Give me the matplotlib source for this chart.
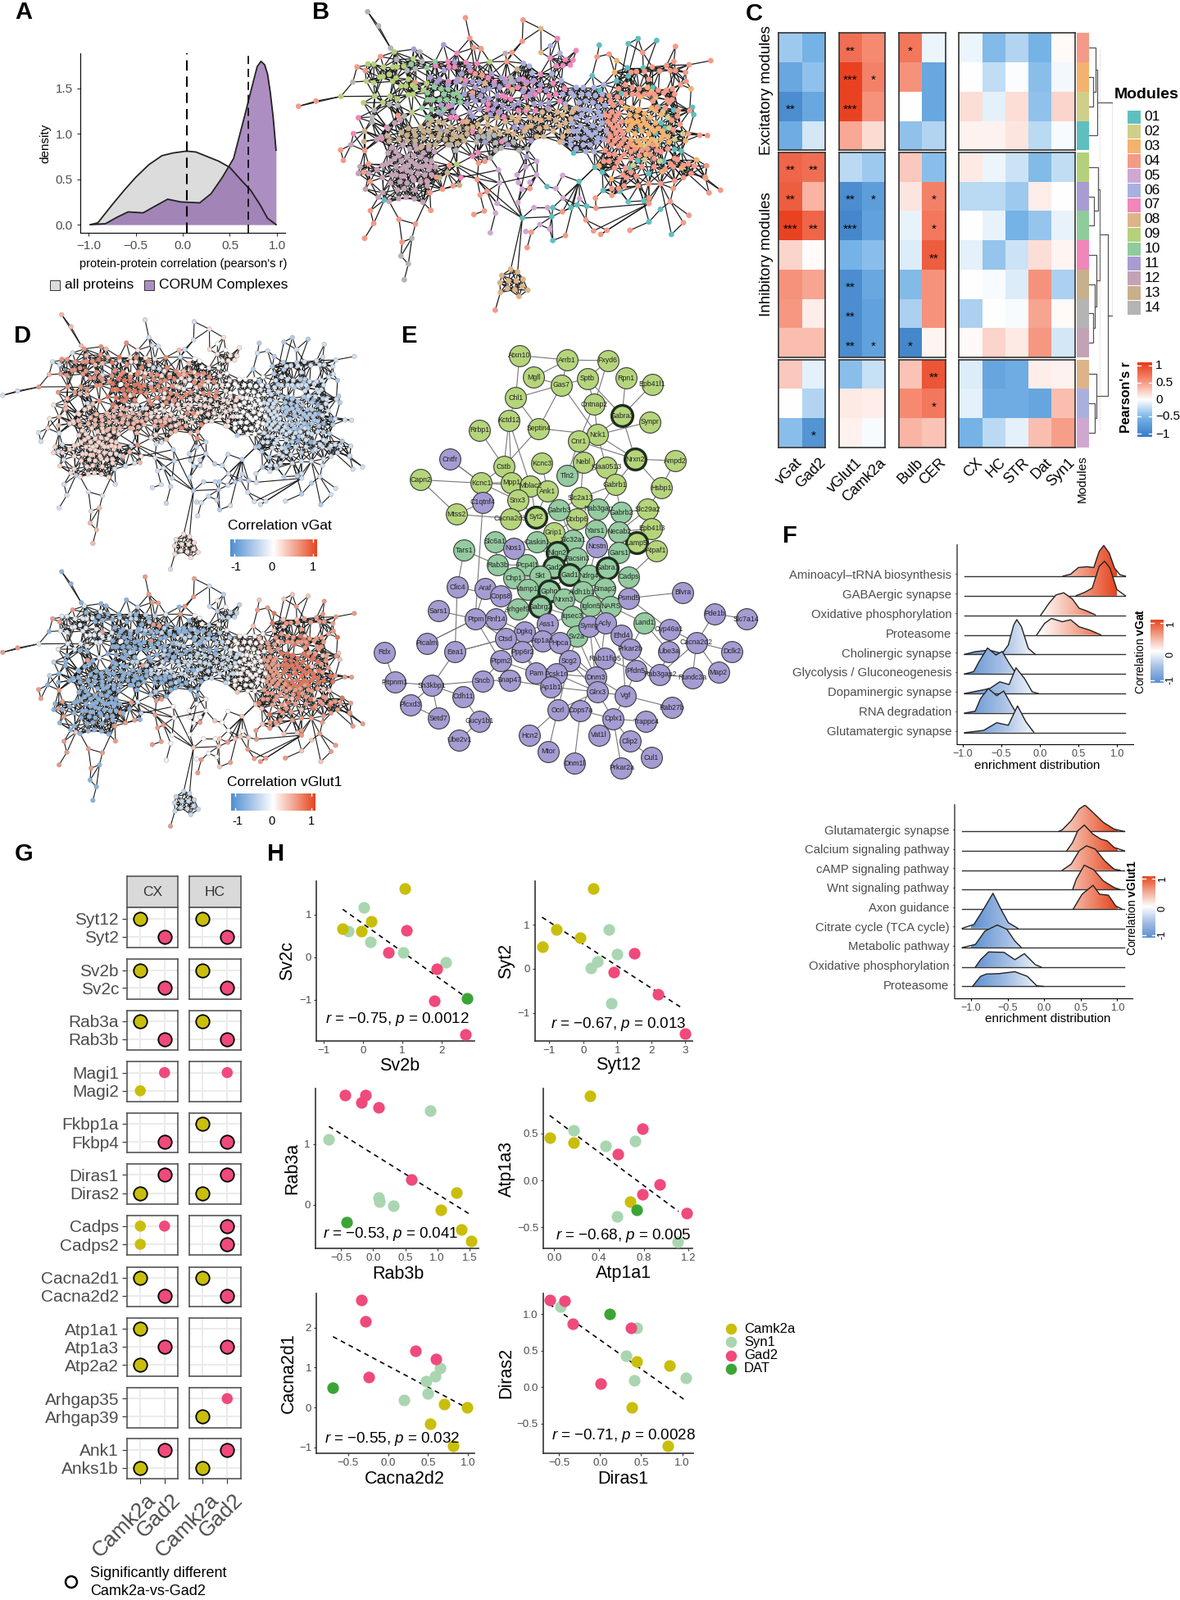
import numpy as np
import matplotlib
matplotlib.use('Agg')
import matplotlib.pyplot as plt
from matplotlib.collections import LineCollection
from matplotlib.colors import LinearSegmentedColormap

plt.rcParams['font.family'] = ['Liberation Sans', 'DejaVu Sans']
plt.rcParams['mathtext.fontset'] = 'custom'
plt.rcParams['mathtext.rm'] = 'Liberation Sans'
plt.rcParams['mathtext.it'] = 'Liberation Sans:italic'
plt.rcParams['mathtext.bf'] = 'Liberation Sans:bold'

W, H = 1440, 1952
fig = plt.figure(figsize=(W / 100, H / 100), dpi=100)
GREY = '#4d4d4d'


def box(x0, y0, x1, y1, **kw):
    return fig.add_axes([x0 / W, 1 - y1 / H, (x1 - x0) / W, (y1 - y0) / H], **kw)


def put(x, y, s, **kw):
    kw.setdefault('va', 'center')
    return fig.text(x / W, 1 - y / H, s, **kw)


for letter, lx, ly in [('A', 18, 15), ('B', 381, 15), ('C', 910, 17), ('D', 17, 410),
                       ('E', 490, 410), ('F', 955, 654), ('G', 18, 1042), ('H', 326, 1042)]:
    put(lx, ly, letter, fontsize=21, fontweight='bold', ha='left')

# ---------- A: density
all_x = [-0.98, -0.90, -0.84, -0.74, -0.62, -0.5, -0.36, -0.22, -0.10, 0.04, 0.14, 0.26, 0.38, 0.50, 0.62, 0.72, 0.82, 0.90, 0.99]
all_y = [0, 0.02, 0.10, 0.23, 0.38, 0.52, 0.66, 0.76, 0.79, 0.81, 0.80, 0.75, 0.70, 0.63, 0.49, 0.38, 0.22, 0.07, 0]
corum_x = [-0.98, -0.82, -0.70, -0.58, -0.42, -0.30, -0.16, -0.02, 0.18, 0.30, 0.42, 0.54, 0.66, 0.74, 0.79, 0.83, 0.87, 0.90, 0.93, 0.96, 0.99]
corum_y = [0, 0.01, 0.08, 0.14, 0.13, 0.20, 0.28, 0.25, 0.24, 0.34, 0.52, 0.73, 1.21, 1.54, 1.74, 1.80, 1.76, 1.66, 1.45, 1.18, 0.82]

ax = box(98, 65, 348, 284)
ax.fill_between(all_x, all_y, color='#dcdcdc', lw=0)
ax.plot(all_x, all_y, color='#222222', lw=1.3)
ax.fill_between(corum_x, corum_y, color='#8A5FA8', alpha=0.7, lw=0)
ax.plot(corum_x, corum_y, color='#222222', lw=1.3)
ax.axvline(0.04, color='black', ls=(0, (6, 3.5)), lw=1.5)
ax.axvline(0.7, color='black', ls=(0, (6, 3.5)), lw=1.2)
ax.set_xlim(-1.087, 1.087)
ax.set_ylim(-0.09, 1.888)
ax.set_xticks([-1, -0.5, 0, 0.5, 1], ['−1.0', '−0.5', '0.0', '0.5', '1.0'])
ax.set_yticks([0, 0.5, 1, 1.5], ['0.0', '0.5', '1.0', '1.5'])
ax.tick_params(labelsize=11, labelcolor=GREY, length=3, color='#333333')
for s in ['top', 'right']:
    ax.spines[s].set_visible(False)
ax.set_ylabel('density', fontsize=11, labelpad=4)
put(224, 322, "protein-protein correlation (pearson's r)", fontsize=10.5, ha='center')
lg = box(60, 340, 350, 356)
lg.axis('off')
lg.set_xlim(60, 350)
lg.set_ylim(356, 340)
lg.scatter([67, 182], [348, 348], marker='s', s=70, c=['#dcdcdc', '#AD8EC2'], edgecolors='#333333', linewidths=0.7)
put(79, 347, 'all proteins', fontsize=12.5, ha='left')
put(194, 347, 'CORUM Complexes', fontsize=12.5, ha='left')

# ---------- B/D: network nodes read per module, layout units = 1/3 px
m01 = [(1144,165),(1250,160),(1286,141),(1354,148),(1247,248),(1305,248),(1250,278),(1118,277),(1207,296),(1225,342),(1145,330),(1350,358),(1485,393),(1490,420),(1417,403),(1370,450),(1295,475),(1350,487),(1420,547),(1445,553),(1380,590),(1285,588),(1255,615),(1128,612),(1155,630),(1070,664),(1158,697),(1220,700),(1250,738),(1307,735),(1368,766),(1326,812),(1408,858),(1040,760),(1063,750),(1098,755),(974,760),(970,793),(974,880),(862,798),(953,683),(357,732),(1325,635),(1050,560),(1385,470),(1360,390),(1340,320)]
m02 = [(1377,408),(1400,468),(1350,515),(1310,535),(1450,490),(1420,510),(1395,430),(1365,590),(1268,605),(1310,585)]
m03 = [(1208,222),(1200,265),(1320,320),(1335,335),(1295,355),(1480,325),(1350,355),(1500,585),(1533,652),(1445,615),(1375,628),(1188,655),(1143,607),(1240,395),(1265,395),(1290,400),(1255,420),(1280,425),(1305,435),(1330,430),(1350,405),(1245,445),(1270,450),(1295,460),(1320,460),(1350,450),(1250,475),(1275,490),(1300,480),(1325,490),(1345,480),(1380,495),(1260,510),(1285,515),(1310,510),(1335,510),(1370,510),(1400,520),(1460,515),(1280,540),(1315,565),
       (1260,460),(1285,445),(1310,450),(1335,470),(1360,470),(1265,530),(1295,530),(1325,525),(1355,530),(1375,480),(1285,405),(1310,415),(1335,395),(1370,420),(1260,440),(1395,500)]
m04 = [(43,389),(107,370),(343,207),(257,245),(287,258),(197,549),(207,587),(285,551),(299,600),(282,630),(305,665),(306,771),(318,818),(285,872),(411,803),(471,820),(422,886),(527,770),(524,705),(513,662),(570,692),(609,680),(548,648),(595,605),(697,657),(708,713),(733,701),(685,785),(723,772),(702,597),(725,590),(654,65),(670,140),(685,175),(711,178),(865,73),(862,151),(824,192),(805,225),(715,275),(690,270),(880,906),(895,850),(407,423),(470,302),(645,445),(680,340),(890,690),(763,1135),
       (1165,420),(1190,410),(1215,415),(1175,445),(1200,440),(1225,445),(1170,475),(1195,470),(1220,475),(1185,500),(1210,505),(1235,510),(1190,530),(1215,535),(1245,540),(1165,550),(1200,565),(1235,565),(1260,555),(1180,590),(1210,595),(1240,615),(1275,545),(1300,550),(1320,545),(1355,550),(1150,365),(1180,350),(1215,325),(1240,310),(1265,320),(1290,325),(1325,345),(1345,345),
       (1136,208),(1180,198),(1303,192),(1423,170),(1552,222),(1473,237),(1417,225),(1390,240),(1338,245),(1310,262),(1280,262),(1260,265),(1325,290),(1365,260),(1403,258),(1423,258),(1460,265),(1462,298),(1442,310),(1412,325),(1390,330),(1410,365),(1392,365),(1355,393),(1433,405),(1475,405),(1512,495),(1540,496),(1470,490),(1537,607),(1492,607),(1452,605),(1480,635),(1532,648),(1588,696),(1546,706),(1452,650),(1420,662),(1415,690),(1404,738),(1472,788),(1452,815),(1368,672),(1326,745),(1326,725),(1280,645),(1245,650),(1215,690),(1190,690),(1130,725),(1132,762),(1123,845),(1149,858),(1172,843),(1095,805),(1009,775),(1020,862),(1256,843),(1235,680),(1190,715),(1286,680),(1325,672),
       (1180,425),(1205,425),(1185,455),(1210,460),(1180,490),(1205,485),(1230,490),(1175,515),(1200,515),(1225,525),(1255,525),(1180,565),(1220,580),(1260,580),(1290,570),(1330,565),(1345,580),(1160,590),(1200,615),(1230,640),(1260,630),(1300,610),(1345,610),(1385,620),(1415,610),(1430,585),(1405,600),(1400,375),(1380,340),(1360,330),(1340,370),(1310,345),(1285,345),(1265,345),(1240,345),(1210,355),(1185,370),(1225,375),(1195,385),(1420,345),(1385,395),(1440,455),(1430,425),(1410,440),(1415,475),(1395,545),(1370,555),(1340,530),(1420,580),(1470,600)]
m05 = [(875,610),(843,640),(848,668),(862,692),(890,667),(846,741),(770,744),(779,670),(775,622),(915,590),(915,640),(905,760),(955,760),(875,847),(926,822),(962,838),(1012,725),(1072,727),(1010,642),(985,690),(745,852),(764,780)]
m06 = [(1050,350),(1070,375),(1095,370),(1120,375),(1140,390),(1165,385),(1060,430),(1080,420),(1100,440),(1125,430),(1150,425),(1075,460),(1095,475),(1120,460),(1145,470),(1170,480),(1050,480),(1040,510),(1065,505),(1090,505),(1115,495),(1140,505),(1110,530),(1135,520),(1160,510),(1060,545),(1095,555),(1125,555),(1010,345),(1020,380),(1155,345),(1125,320),(1085,320),(1160,310),(965,168),(1000,195),(867,232),(888,242),(898,268),(970,270),(1005,295),(1040,340),
       (1070,400),(1090,400),(1110,405),(1140,410),(1050,400),(1045,450),(1065,480),(1105,485),(1130,485),(1155,450),(1085,530),(1040,530),(1035,480),(1105,345),(1130,350),(1080,345),(1060,320),(1010,520)]
m07 = [(262,431),(244,489),(348,507),(366,466),(623,195),(590,225),(594,245),(615,245),(656,228),(672,258),(696,233),(655,295),(592,298),(737,285),(738,380),(790,350),(800,355),(820,362),(810,315),(875,355),(848,405),(875,405),(795,428),(680,480),(637,650),(680,572),(700,558),(787,518),(590,390),(545,240),(525,365),(991,141),(964,212),(1059,185),(1020,218),(1048,220),(986,240),(1011,240),(1038,238),(928,272),(875,305),(910,345),(975,305),(1017,325),
       (760,300),(800,290),(845,320),(890,345),(925,330),(960,350),(985,345),(1000,370),(775,410),(735,400),(620,430),(600,430),(910,405),(865,290),(900,300)]
m08 = [(710,480),(735,455),(765,470),(730,430),(770,430),(800,445),(825,430),(850,430),(890,430),(855,505),(810,480),(635,290),(725,305),(825,328),(870,325),(912,435),(935,410),(960,430),(985,440),(1010,420),(1040,435),(1020,450),(1000,460),(895,460),(925,470),(915,500),(880,395),(950,465),(1045,410),(930,105),(931,192),
       (680,465),(700,455),(660,445),(745,480),(780,490),(830,490),(870,480),(940,500),(975,480),(1030,480),(990,410),(1020,395),(960,400),(930,440),(880,465),(840,445),(1060,395),(1010,500),(1000,520),
       (820,985),(845,995),(787,1008),(865,1022),(780,1035),(812,1028),(840,1028),(808,1055),(835,1060),(862,1048),(882,1062),(782,1070),(850,1085)]
m09 = [(198,353),(281,376),(322,352),(352,375),(378,352),(405,362),(297,234),(319,235),(354,245),(388,245),(404,245),(428,242),(463,215),(393,190),(291,297),(318,303),(340,282),(352,280),(375,272),(387,298),(400,285),(418,315),(436,315),(445,290),(460,312),(470,322),(445,347),(462,345),(500,330),(512,305),(743,226),(622,602),(458,412)]
m10 = [(543,225),(513,248),(455,235),(515,340),(540,318),(565,325),(590,325),(575,345),(610,345),(625,340),(635,355),(635,375),(610,370),(585,365),(515,365),(535,365),(560,365),(495,395),(530,400),(555,410),(515,430),(525,435),(575,400)]
m11 = [(574,164),(465,180),(615,227),(668,243),(576,258),(750,270),(787,285),(640,270),(625,290),(550,300),(525,283),(660,380),(670,410),(690,370),(705,400),(720,370),(680,425),(740,360),(765,380),(790,385),(770,350),(745,420),(720,330),(690,320),(605,385),(610,410),(565,385),(565,415),(565,480),(860,465),(835,465),(810,530),(725,520),(895,515),(878,573),(866,332),(888,350),(865,335),
       (650,310),(680,300),(705,300),(740,325),(760,310),(780,320),(800,300),(830,300),(850,290),(880,300),(905,295),(930,310),(950,330),(900,330),(650,345),(680,355),(710,350),(755,400),(780,410),(810,400),(830,385),(850,375),(905,380),(930,380),(960,375),(955,395),(620,300),(590,310),(560,290)]
m12 = [(370,560),(385,540),(400,555),(425,530),(450,545),(470,530),(495,535),(520,545),(540,555),(380,590),(400,610),(365,600),(420,590),(440,575),(465,570),(490,575),(510,585),(530,590),(545,610),(420,620),(445,605),(470,600),(495,610),(520,620),(400,640),(430,645),(455,630),(480,635),(505,640),(530,640),(415,665),(440,670),(465,660),(490,665),(515,665),(350,650),(350,605),(330,620),(300,635),(268,610),(262,635),(288,692),(335,722),(350,705),(375,738),(410,727),(437,722),(467,728),(498,740),(430,690),(405,695),(470,695),(515,680),(380,670),(345,500),(330,510),(235,530),(370,470),(395,450),(415,440),
       (385,640),(420,645),(440,625),(395,580),(410,570),(475,545),(500,560),(525,610),(455,590),(480,610),(510,605),(460,650),(430,610)]
m13 = [(440,495),(465,480),(490,465),(520,455),(550,470),(575,450),(600,465),(470,515),(500,505),(530,500),(555,505),(580,510),(605,510),(625,525),(650,515),(630,470),(660,490),(520,530),(545,530),(490,540),(440,515),(420,485),(285,480),(282,518),(375,517),(368,497),(560,650),(632,678),(588,632),(843,253),
       (660,470),(640,500),(610,490),(585,480),(555,445),(530,440),(500,480),(470,495),(445,470),(410,510),(520,480),(560,490),(590,530),(620,500)]
m14 = [(296,43),(336,95),(380,176),(402,218),(242,300),(320,403),(313,428),(312,447),(375,382),(487,190),(495,225),(440,258),(470,252),(820,285),(800,195),(430,1024),(445,966),(418,937),(458,872),(745,578),(765,550),(785,542),(740,490),(695,520),(765,522),(740,505),(405,385),(430,425),(620,550),(820,300),
       (700,500),(720,500),(760,495),(800,510),(830,520),(850,550),(880,545),(600,530)]

module_names = ['01', '02', '03', '04', '05', '06', '07', '08', '09', '10', '11', '12', '13', '14']
module_colors = ['#5FBFBF', '#CFCF8A', '#F5B26E', '#F39A88', '#CFA8D2', '#AAB0DE', '#F087B8', '#DDB488', '#B5D07A', '#8FCB9B', '#A99CD2', '#C4A2B6', '#C8B08C', '#B4B4B4']
module_nodes = [m01, m02, m03, m04, m05, m06, m07, m08, m09, m10, m11, m12, m13, m14]

node_xy = np.array([p for m in module_nodes for p in m], dtype=float)
node_mod = np.array([i for i, m in enumerate(module_nodes) for p in m])

# long links, the rest of the links are not readable one by
# one and are taken from the neighbourhood of each node in the layout
long_links = [((862,798),(820,985)), ((862,798),(845,995)), ((862,798),(775,622)), ((862,798),(846,741)), ((862,798),(697,657)), ((862,798),(770,744)),
              ((862,798),(970,793)), ((846,741),(915,640)), ((846,741),(875,610)), ((779,670),(620,600)), ((779,670),(915,640)), ((779,670),(770,744)),
              ((779,670),(588,632)), ((775,622),(637,650)), ((697,657),(570,560)), ((697,657),(770,744)), ((763,1135),(782,1070)), ((43,389),(107,370)),
              ((107,370),(198,353)), ((198,353),(322,352)), ((296,43),(336,95)), ((336,95),(380,176)), ((380,176),(402,218)), ((430,1024),(445,966)),
              ((445,966),(458,872)), ((458,872),(471,820)), ((471,820),(524,705)), ((418,937),(458,872)), ((285,872),(318,818)), ((318,818),(357,732)),
              ((654,65),(670,140)), ((670,140),(700,270)), ((865,73),(862,151)), ((862,151),(805,225)), ((862,151),(930,105)), ((930,105),(931,192)),
              ((1326,745),(1132,762)), ((1326,745),(1280,645)), ((1326,745),(1368,672)), ((1326,745),(1123,845)), ((1326,745),(1149,858)), ((1326,745),(1172,843)),
              ((1070,664),(1009,775)), ((1070,664),(1098,755)), ((1070,664),(1020,862)), ((1070,664),(1040,760)), ((970,793),(974,880)), ((970,793),(1040,760)),
              ((1404,738),(1472,788)), ((1404,738),(1452,815)), ((1552,222),(1473,237)), ((1588,696),(1452,605)), ((1546,706),(1445,615)), ((1408,858),(1368,672)),
              ((1326,812),(1290,660)), ((1540,496),(1380,470)), ((1250,160),(1215,325)), ((1286,141),(1240,310)), ((1354,148),(1280,325))]
d = np.hypot(node_xy[:, None, 0] - node_xy[None, :, 0], node_xy[:, None, 1] - node_xy[None, :, 1])
order = np.argsort(d, axis=1)
density = (d < 90).sum(axis=1)
is_tail = (node_xy[:, 1] > 950) & (node_xy[:, 0] > 700)
pairs = set()
for i in range(len(node_xy)):
    if is_tail[i]:
        for j in np.where(is_tail & (d[i] < 62))[0]:
            if i != j:
                pairs.add((min(i, j), max(i, j)))
        continue
    if density[i] >= 14:
        near = list(order[i, 1:11])
    elif density[i] >= 8:
        near = list(order[i, 1:3])
    else:
        near = []
    denser = [j for j in order[i, 1:] if density[j] > density[i] and not is_tail[j]][:1]
    for j in near + denser:
        if not is_tail[j]:
            pairs.add((min(i, j), max(i, j)))
for p, q in long_links:
    i = np.argmin(np.hypot(node_xy[:, 0] - p[0], node_xy[:, 1] - p[1]))
    j = np.argmin(np.hypot(node_xy[:, 0] - q[0], node_xy[:, 1] - q[1]))
    pairs.add((min(i, j), max(i, j)))
pairs = np.array(sorted(pairs))


def network(x0, y0, scale, colors, size, edge_lw, node_edge):
    a = box(x0, y0, x0 + 1710 / 3 * scale, y0 + 400 * scale)
    a.axis('off')
    a.set_xlim(0, 1710)
    a.set_ylim(1200, 0)
    a.patch.set_alpha(0)
    a.add_collection(LineCollection(node_xy[pairs], colors='#1c1c1c', linewidths=edge_lw, zorder=1))
    a.scatter(node_xy[:, 0], node_xy[:, 1], s=size, c=colors, linewidths=0.3, edgecolors=node_edge, zorder=2, clip_on=False)
    return a


network(350, 0, 1, [module_colors[m] for m in node_mod], 24, 0.9, 'none')

# ---------- C: heatmap
c_rows = ['04', '03', '02', '01', '09', '11', '10', '07', '13', '14', '12', '08', '06', '05']
vgat = [-0.35, -0.6, -0.85, -0.55, 0.75, 0.8, 0.95, 0.2, 0.5, 0.48, 0.3, 0.25, 0, -0.42]
gad2 = [-0.5, -0.4, -0.6, -0.15, 0.7, 0.35, 0.75, 0.02, 0.42, 0.08, 0.3, -0.1, -0.28, -0.78]
vglut1 = [0.7, 0.95, 0.95, 0.4, -0.25, -0.85, -0.9, -0.5, -0.85, -0.85, -0.85, -0.42, 0.1, 0.07]
camk2a = [0.55, 0.6, 0.5, 0.17, -0.35, -0.7, -0.65, -0.42, -0.6, -0.65, -0.65, -0.2, 0.08, -0.03]
bulb = [0.65, 0.5, 0, -0.4, 0.25, 0.12, -0.08, -0.12, -0.45, -0.3, -0.9, 0.28, 0.55, 0.35]
cer = [-0.07, -0.6, -0.6, -0.28, -0.42, 0.6, 0.65, 0.8, 0.5, 0.5, 0.05, 0.85, 0.65, 0.28]
cx = [-0.07, 0, 0.15, 0.06, 0.1, -0.25, 0, -0.1, 0, -0.3, 0.03, -0.12, -0.1, -0.5]
hc = [-0.45, -0.22, -0.1, 0.06, -0.07, -0.25, -0.08, -0.38, -0.03, 0, 0.2, -0.62, -0.55, -0.25]
str_ = [-0.28, -0.02, 0.15, 0.12, -0.18, -0.35, -0.5, -0.18, -0.12, -0.03, 0.1, -0.55, -0.55, -0.1]
dat = [-0.5, -0.42, -0.4, -0.25, -0.45, 0.08, -0.38, 0.15, 0.5, 0.42, 0.48, 0.08, -0.62, 0.3]
syn1 = [0.03, -0.04, 0.2, -0.03, -0.22, 0, -0.08, 0.05, -0.3, 0.03, -0.15, 0.06, 0.3, 0.45]
c_cmap = LinearSegmentedColormap.from_list('pearson', ['#3A7DC5', '#74B2E6', '#FFFFFF', '#F6937C', '#E83A18'])
c_stars = {(0, 'vGlut1'): '**', (0, 'Bulb'): '*', (1, 'vGlut1'): '***', (1, 'Camk2a'): '*',
           (2, 'vGat'): '**', (2, 'vGlut1'): '***', (4, 'vGat'): '**', (4, 'Gad2'): '**',
           (5, 'vGat'): '**', (5, 'vGlut1'): '**', (5, 'Camk2a'): '*', (5, 'CER'): '*',
           (6, 'vGat'): '***', (6, 'Gad2'): '**', (6, 'vGlut1'): '***', (6, 'CER'): '*',
           (7, 'CER'): '**', (8, 'vGlut1'): '**', (9, 'vGlut1'): '**',
           (10, 'vGlut1'): '**', (10, 'Camk2a'): '*', (10, 'Bulb'): '*',
           (11, 'CER'): '**', (12, 'CER'): '*', (13, 'Gad2'): '*'}
col_groups = [(950.3, 1007, ['vGat', 'Gad2'], [vgat, gad2]),
              (1023.6, 1080.4, ['vGlut1', 'Camk2a'], [vglut1, camk2a]),
              (1097, 1153.8, ['Bulb', 'CER'], [bulb, cer]),
              (1170.3, 1311.5, ['CX', 'HC', 'STR', 'Dat', 'Syn1'], [cx, hc, str_, dat, syn1])]
row_groups = [(40.2, 183.3, 0, 4), (186, 436, 4, 11), (438.6, 545.7, 11, 14)]
for cx0, cx1, cols, vals in col_groups:
    mat = np.array(vals).T
    for ry0, ry1, r0, r1 in row_groups:
        a = box(cx0, ry0, cx1, ry1)
        a.pcolormesh(np.arange(len(cols) + 1), np.arange(r0, r1 + 1), mat[r0:r1], cmap=c_cmap, vmin=-1, vmax=1)
        a.set_ylim(r1, r0)
        a.set_xticks([])
        a.set_yticks([])
        for s in a.spines.values():
            s.set_linewidth(1.2)
            s.set_color('#333333')
        for (r, name), st in c_stars.items():
            if r0 <= r < r1 and name in cols:
                a.text(cols.index(name) + 0.5, r + 0.62, st, ha='center', va='center', fontsize=11)
    step = (cx1 - cx0) / len(cols)
    for k, name in enumerate(cols):
        put(cx0 + step * k + step * 0.72, 556, name, fontsize=13, rotation=45, ha='right', va='top', rotation_mode='anchor')
put(1320.8, 555, 'Modules', fontsize=11, rotation=90, ha='center', va='top')
put(936, 110, 'Excitatory modules', fontsize=13.5, rotation=90, ha='center')
put(936, 310, 'Inhibitory modules', fontsize=13.5, rotation=90, ha='center')

for ry0, ry1, r0, r1 in row_groups:
    a = box(1314, ry0, 1328.7, ry1)
    a.pcolormesh([0, 1], np.arange(r0, r1 + 1), np.arange(r0, r1)[:, None],
                 cmap=matplotlib.colors.ListedColormap([module_colors[module_names.index(c_rows[r])] for r in range(r0, r1)]))
    a.set_ylim(r1, r0)
    a.axis('off')

# dendrogram heights
tree = (85, (30, (25, 0, (15, 1, 2)), 3),
        (67, (38, (33, 4, (17, 5, 6)), (28, 7, (20, 8, (15, 9, 10)))),
         (27, 11, (22, 12, 13))))
row_mid = []
for ry0, ry1, r0, r1 in row_groups:
    row_mid += list(ry0 + (np.arange(r1 - r0) + 0.5) * (ry1 - ry0) / (r1 - r0))
den = box(1328.7, 40.2, 1358.2, 545.7)
den.axis('off')
den.set_xlim(0, 85)
den.set_ylim(545.7, 40.2)


def draw_tree(t):
    if not isinstance(t, tuple):
        return row_mid[t], 0
    y1, h1 = draw_tree(t[1])
    y2, h2 = draw_tree(t[2])
    den.plot([h1, t[0], t[0], h2], [y1, y1, y2, y2], color='#555555', lw=0.9)
    return (y1 + y2) / 2, t[0]


draw_tree(tree)
den.plot([39, 39], [60, 525], color='#bbbbbb', lw=0.6, ls=':')

put(1360, 116, 'Modules', fontsize=14, fontweight='bold', ha='left')
lg = box(1374.5, 133.6, 1392.4, 384)
lg.axis('off')
lg.pcolormesh([0, 1], np.arange(15), np.arange(14)[:, None], cmap=matplotlib.colors.ListedColormap(module_colors), edgecolors='white', linewidth=0.6)
lg.set_ylim(14, 0)
for k, name in enumerate(module_names):
    put(1396.6, 133.6 + (k + 0.5) * 17.9, name, fontsize=12.5, ha='left')

grad = np.linspace(1, -1, 200)[:, None]


def colorbar(x0, y0, x1, y1, cmap, horizontal=False, ticks=(-1, 0, 1)):
    a = box(x0, y0, x1, y1)
    if horizontal:
        a.imshow(grad.T[:, ::-1], aspect='auto', cmap=cmap, vmin=-1, vmax=1, extent=[-1.1, 1.1, 0, 1])
        for t in ticks:
            if t:
                a.plot([t, t], [0, 0.15], color='white', lw=1)
                a.plot([t, t], [0.85, 1], color='white', lw=1)
    else:
        a.imshow(grad, aspect='auto', cmap=cmap, vmin=-1, vmax=1, extent=[0, 1, -1.1, 1.1])
        for t in ticks:
            if t:
                a.plot([0, 0.22], [t, t], color='white', lw=1)
                a.plot([0.78, 1], [t, t], color='white', lw=1)
        a.set_ylim(-1.1, 1.1)
    a.axis('off')
    return a


colorbar(1388, 442, 1406, 533, c_cmap, ticks=(-1, -0.5, 0.5, 1))
for lab, yy in [('1', 446), ('0.5', 467), ('0', 488), ('−0.5', 508), ('−1', 530)]:
    put(1410, yy, lab, fontsize=11, ha='left')
put(1374.5, 485, "Pearson's r", fontsize=11.5, fontweight='bold', rotation=90, ha='center')

# ---------- D: same layout coloured by module correlations from C
d_cmap = LinearSegmentedColormap.from_list('corr', ['#4F8FD0', '#A9C6E8', '#FFFFFF', '#F2A38F', '#E4451F'])
vgat_by_mod = [vgat[c_rows.index(m)] for m in module_names]
vglut_by_mod = [vglut1[c_rows.index(m)] for m in module_names]
for y_off, by_mod in [(371.7, vgat_by_mod), (685.2, vglut_by_mod)]:
    cols = d_cmap((np.array(by_mod)[node_mod] * 0.8 + 1) / 2)
    network(-8.9, y_off, 0.853, cols, 16, 0.8, '#999999')

colorbar(281, 657.5, 387, 679, d_cmap, horizontal=True)
put(278, 642, 'Correlation vGat', fontsize=12.5, ha='left')
colorbar(282, 968, 385, 989, d_cmap, horizontal=True)
put(277, 955, 'Correlation vGlut1', fontsize=12.5, ha='left')
for lab, xx, yy in [('-1', 288, 692), ('0', 331, 692), ('1', 382, 692), ('-1', 290, 1001.5), ('0', 331, 1001.5), ('1', 380, 1001.5)]:
    put(xx, yy, lab, fontsize=10.5, ha='center')

# ---------- E: protein network, layout units from the picture
e_green = [('Atxn10',612,85),('Arrb1',787,99),('Fxyd6',935,101),('Mgll',664,153),('Gas7',766,176),('Sptb',860,156),('Rpn1',1001,155),('Epb41l1',1098,174),('Chl1',598,216),('Cntnap2',886,236),('Gabra3',987,271),('Synpr',1088,290),('Kctd12',573,285),('Septin4',682,310),('Rrbp1',465,316),('Nck1',897,330),('Cnr1',828,350),('Nrxn2',1036,405),('Ampd2',1182,410),('Nebl',845,414),('Kiaa0513',930,429),('Kcnc3',694,418),('Cstb',555,428),('Capn2',249,469),('Kcnc1',472,479),('Mpp1',583,477),('Mblac2',652,487),('Ank1',714,504),('Gabrb1',962,484),('Hsbp1',1130,494),('Snx3',605,532),('Slc2a13',836,524),('Slc29a2',1081,559),('Mtss2',382,575),('Cacna2d3',578,588),('Syt2',672,583),('Stxbp6',823,590),('Epb41l3',1095,619),('Grip1',737,631),('Lamp5',1040,663),('Atpaf1',1113,687)]
e_teal = [('Tln2',786,456),('Gabrb3',757,562),('Rab3gap',900,558),('Gabrb2',984,570),('Yars1',892,625),('Necab2',975,629),('Slc6a1',522,659),('Caskin1',675,661),('Slc32a1',808,655),('Tars1',409,686),('Nlgn2',750,694),('Gars1',976,694),('Pacsin3',822,711),('Pcp4l1',640,732),('Rab3b',531,731),('Gad2',738,739),('Gad1',796,762),('Ndrg4',866,764),('Gabra1',933,741),('Cadps',1012,768),('Chp1',590,772),('Skt',688,766),('Vamp1',641,806),('Gphn',720,813),('Aldh1b1',842,815),('Smap2',925,805),('Nrxn3',775,838),('Arhgef9',605,868),('Gabrg2',688,860),('Iglon5',873,858),('NARS',945,859),('Iqsec3',805,889),('Land1',1069,910),('Sv2a',822,951)]
e_purple = [('Cntfr',356,405),('C1qtnf4',478,538),('Nos1',591,680),('Ncstn',894,675),('Clic4',384,800),('Araf',485,804),('Cops8',543,828),('Psmd5',1012,834),('Blvra',1209,816),('Sars1',314,873),('Ptpm',450,898),('Rnf14',526,898),('Pde1b',1325,882),('Slc7a14',1443,898),('Ass1',713,913),('Synrg',868,920),('Acly',926,911),('Dgkq',630,938),('Cyp46a1',1160,930),('Ctsd',560,959),('Picalm',272,973),('Atp1a3',697,966),('Hpca',760,972),('Ehd4',985,949),('Cacna2d2',1260,970),('Eea1',376,1000),('Rdx',116,1001),('Ppp6r2',621,999),('Prkar2b',1017,991),('Ube3a',1158,998),('Dclk2',1390,998),('Ptpm2',543,1028),('Scg2',794,1027),('Rab11fip5',925,1020),('Map2',1340,1063),('Pam',672,1065),('Pcsk1n',747,1068),('Pfdn5',1037,1058),('Rab3gap2',1125,1069),('Rundc3a',1245,1079),('Sncb',476,1089),('Snap47',575,1087),('Ap1b1',727,1108),('Dnm3',890,1078),('Pitpnm1',155,1093),('Sh3kbp1',291,1103),('Cdh11',405,1137),('Glrx3',896,1123),('Vgf',1000,1135),('Rab27b',1170,1171),('Plcxd3',212,1163),('Setd7',316,1204),('Ocrl',752,1179),('Cops7a',835,1180),('Cplx1',955,1206),('Gucy1b1',465,1213),('Trappc4',1075,1215),('Ube2v1',391,1272),('Hcn2',649,1257),('Vat1l',902,1256),('Clip2',1017,1275),('Mtor',717,1307),('Dnm1l',812,1343),('Cul1',1094,1326),('Prkar2a',985,1357)]
e_bold = ['Gabra3', 'Nrxn2', 'Syt2', 'Lamp5', 'Nlgn2', 'Gad2', 'Gad1', 'Gabra1', 'Gphn', 'Gabrg2']
e_links = """Atxn10-Arrb1 Atxn10-Chl1 Arrb1-Fxyd6 Arrb1-Mgll Arrb1-Gas7 Fxyd6-Sptb Fxyd6-Cntnap2 Mgll-Gas7 Gas7-Chl1 Gas7-Sptb Gas7-Septin4 Gas7-Nck1 Sptb-Gabra3 Sptb-Cntnap2 Rpn1-Gabra3 Epb41l1-Gabra3 Chl1-Kctd12 Chl1-Septin4 Cntnap2-Nck1 Cntnap2-Cnr1 Gabra3-Nck1 Gabra3-Nrxn2 Synpr-Nck1 Kctd12-Cstb Kctd12-Mblac2 Kctd12-Mpp1 Septin4-Nck1 Septin4-Cstb Rrbp1-Cstb Nck1-Cnr1 Nck1-Nrxn2 Cnr1-Nrxn2 Cnr1-Tln2 Nck1-Kiaa0513 Nrxn2-Ampd2 Nrxn2-Hsbp1 Nrxn2-Gabrb1 Ampd2-Hsbp1 Nebl-Kiaa0513 Nebl-Tln2 Nebl-Slc2a13 Kcnc3-Ank1 Cstb-Kcnc1 Cstb-Snx3 Capn2-Kcnc1 Capn2-Mtss2 Kcnc1-Mpp1 Kcnc1-Mblac2 Kcnc1-Cntfr Kcnc1-Snx3 Mtss2-C1qtnf4 Mpp1-Mblac2 Mblac2-Ank1 Mblac2-Syt2 Ank1-Gabrb3 Ank1-Syt2 Gabrb1-Slc2a13 Gabrb1-Kiaa0513 Gabrb1-Gabrb2 Gabrb1-Rab3gap Hsbp1-Slc29a2 Snx3-Syt2 Snx3-Cacna2d3 Slc2a13-Stxbp6 Slc2a13-Gabrb3 Slc29a2-Gabrb2 Slc29a2-Necab2 Cacna2d3-Syt2 Mtss2-Cacna2d3 Syt2-Grip1 Syt2-Gabrb3 Stxbp6-Grip1 Stxbp6-Yars1 Stxbp6-Slc32a1 Epb41l3-Necab2 Epb41l3-Lamp5 Grip1-Nlgn2 Lamp5-Necab2 Lamp5-Gars1 Lamp5-Atpaf1 Atpaf1-Cadps Tln2-Kiaa0513 Gabrb3-Slc32a1 Rab3gap-Gabrb2 Rab3gap-Yars1 Gabrb2-Necab2 Yars1-Necab2 Yars1-Ncstn Necab2-Gars1 Slc6a1-Caskin1 Slc6a1-Rab3b Slc6a1-Nos1 Caskin1-Nlgn2 Caskin1-Slc32a1 Slc32a1-Pacsin3 Slc32a1-Nlgn2 Tars1-Rab3b Tars1-Clic4 Nlgn2-Gad2 Nlgn2-Gad1 Nlgn2-Pacsin3 Gars1-Gabra1 Pacsin3-Gad1 Pacsin3-Ndrg4 Pcp4l1-Gad2 Pcp4l1-Rab3b Pcp4l1-Chp1 Gad2-Gad1 Gad2-Skt Gad2-Gphn Gad1-Ndrg4 Gad1-Gphn Gad1-Aldh1b1 Ndrg4-Gabra1 Ndrg4-Smap2 Gabra1-Cadps Gabra1-Smap2 Cadps-Psmd5 Chp1-Skt Chp1-Vamp1 Skt-Vamp1 Skt-Gphn Vamp1-Gphn Vamp1-Arhgef9 Gphn-Gabrg2 Gphn-Nrxn3 Aldh1b1-Nrxn3 Aldh1b1-Iglon5 Smap2-NARS Nrxn3-Gabrg2 Nrxn3-Iqsec3 Arhgef9-Gabrg2 Arhgef9-Ptpm Gabrg2-Iqsec3 Iglon5-NARS Iglon5-Synrg NARS-Acly Iqsec3-Sv2a Iqsec3-Ass1 Land1-NARS Land1-Ube3a Land1-Prkar2b Sv2a-Synrg Sv2a-Atp1a3 Sv2a-Scg2 Sv2a-Dnm3 Cntfr-Kcnc1 C1qtnf4-Ptpm Nos1-Rab3b Nos1-Nlgn2 Ncstn-Gars1 Ncstn-Ndrg4 Clic4-Eea1 Clic4-Cops8 Araf-Cops8 Araf-Ptpm Cops8-Arhgef9 Psmd5-Blvra Psmd5-NARS Psmd5-Cyp46a1 Sars1-Ptpm Ptpm-Rnf14 Ptpm-Ctsd Ptpm-Ptpm2 Ptpm-Picalm Rnf14-Ctsd Rnf14-Dgkq Pde1b-Slc7a14 Pde1b-Cacna2d2 Ass1-Atp1a3 Ass1-Dgkq Synrg-Acly Synrg-Rab11fip5 Acly-Ehd4 Dgkq-Ctsd Dgkq-Ppp6r2 Dgkq-Atp1a3 Cyp46a1-Ube3a Cyp46a1-Cacna2d2 Ctsd-Ppp6r2 Ctsd-Ptpm2 Ctsd-Eea1 Atp1a3-Hpca Atp1a3-Ppp6r2 Atp1a3-Scg2 Hpca-Scg2 Ehd4-Prkar2b Cacna2d2-Dclk2 Cacna2d2-Map2 Cacna2d2-Rundc3a Cacna2d2-Rab3gap2 Eea1-Sh3kbp1 Rdx-Pitpnm1 Ppp6r2-Ptpm2 Ppp6r2-Pam Prkar2b-Rab3gap2 Prkar2b-Pfdn5 Ube3a-Rab3gap2 Ptpm2-Snap47 Ptpm2-Pam Scg2-Pam Scg2-Pcsk1n Scg2-Ap1b1 Scg2-Dnm3 Rab11fip5-Dnm3 Rab11fip5-Glrx3 Rab11fip5-Pfdn5 Pam-Pcsk1n Pam-Ap1b1 Pcsk1n-Ap1b1 Pcsk1n-Dnm3 Pfdn5-Vgf Pfdn5-Rab3gap2 Rab3gap2-Rundc3a Sncb-Snap47 Sncb-Sh3kbp1 Sncb-Ptpm2 Snap47-Ap1b1 Ap1b1-Ocrl Ap1b1-Glrx3 Dnm3-Glrx3 Dnm3-Vgf Dnm3-Cops7a Pitpnm1-Sh3kbp1 Sh3kbp1-Plcxd3 Sh3kbp1-Setd7 Sh3kbp1-Cdh11 Plcxd3-Setd7 Cdh11-Gucy1b1 Gucy1b1-Ube2v1 Glrx3-Vgf Glrx3-Cplx1 Glrx3-Ocrl Vgf-Rab27b Vgf-Cplx1 Ocrl-Cops7a Ocrl-Hcn2 Ocrl-Mtor Cops7a-Dnm1l Cops7a-Cplx1 Cplx1-Vat1l Cplx1-Clip2 Cplx1-Trappc4 Cplx1-Prkar2a Clip2-Cul1 Picalm-Ptpm Eea1-Ctsd Ppp6r2-Ap1b1 Hpca-Dnm3 Synrg-Dnm3 Acly-Glrx3 Ehd4-Vgf Scg2-Glrx3 Pcsk1n-Glrx3 Ocrl-Scg2"""
e_groups = [(e_green, '#B5D57B'), (e_teal, '#94CBA0'), (e_purple, '#A49CD2')]
e_pos = {n: (x, y) for g, c in e_groups for n, x, y in g}
ax = box(430, 400, 950, 1020)
ax.axis('off')
ax.set_xlim(0, 1560)
ax.set_ylim(1568, 0)
for link in e_links.split():
    a_, b_ = link.split('-')
    ax.plot([e_pos[a_][0], e_pos[b_][0]], [e_pos[a_][1], e_pos[b_][1]], color='#777777', lw=0.8, zorder=1)
for g, c in e_groups:
    for n, x, y in g:
        bold = n in e_bold
        ax.scatter([x], [y], s=345, c=c, edgecolors='#1f2d1f' if bold else '#3a3a3a', linewidths=2.4 if bold else 0.8, zorder=2)
        ax.text(x, y, n, fontsize=6.3, ha='center', va='center', color='#222222', zorder=3)

# ---------- F: ridges
f1_labels = ['Aminoacyl–tRNA biosynthesis', 'GABAergic synapse', 'Oxidative phosphorylation', 'Proteasome', 'Cholinergic synapse', 'Glycolysis / Gluconeogenesis', 'Dopaminergic synapse', 'RNA degradation', 'Glutamatergic synapse']
f1_x = [[0.30, 0.40, 0.50, 0.61, 0.70, 0.77, 0.83, 0.90, 0.97, 1.04, 1.11],
        [0.47, 0.58, 0.68, 0.77, 0.84, 0.91, 1.0, 1.11],
        [0.01, 0.12, 0.21, 0.31, 0.42, 0.51, 0.61, 0.72],
        [-0.04, 0.06, 0.15, 0.29, 0.40, 0.51, 0.65, 0.79],
        [-0.98, -0.84, -0.66, -0.49, -0.41, -0.34, -0.30, -0.24, -0.15, -0.06],
        [-0.98, -0.86, -0.79, -0.68, -0.57, -0.49, -0.40, -0.31],
        [-0.98, -0.80, -0.65, -0.52, -0.40, -0.31, -0.20, -0.10, -0.02],
        [-0.98, -0.84, -0.77, -0.67, -0.56, -0.47, -0.38, -0.31],
        [-0.98, -0.73, -0.56, -0.41, -0.29, -0.18, -0.08]]
f1_y = [[0, 0.10, 0.44, 0.48, 0.44, 1.26, 1.57, 1.18, 0.41, 0.07, 0],
        [0, 0.17, 0.39, 1.5, 1.76, 1.42, 0.31, 0],
        [0, 0.62, 1.04, 1.15, 0.84, 0.36, 0.22, 0.02],
        [0, 0.58, 0.84, 0.67, 0.77, 0.41, 0.24, 0],
        [0, 0.14, 0.22, 0.05, 0.48, 1.5, 1.78, 1.42, 0.31, 0],
        [0, 0.12, 0.63, 1.33, 0.97, 1.15, 0.55, 0.03],
        [0, 0.14, 0.26, 0.6, 0.46, 1.32, 0.77, 0.09, 0],
        [0, 0.10, 0.75, 1.26, 0.89, 1.13, 0.5, 0.03],
        [0, 0.12, 0.51, 0.38, 1.37, 0.55, 0.03]]
f2_labels = ['Glutamatergic synapse', 'Calcium signaling pathway', 'cAMP signaling pathway', 'Wnt signaling pathway', 'Axon guidance', 'Citrate cycle (TCA cycle)', 'Metabolic pathway', 'Oxidative phosphorylation', 'Proteasome']
f2_x = [[0.20, 0.25, 0.37, 0.48, 0.56, 0.67, 0.81, 0.96, 1.10],
        [0.31, 0.39, 0.46, 0.55, 0.67, 0.78, 0.86, 0.96, 1.1],
        [0.25, 0.37, 0.48, 0.58, 0.70, 0.83, 0.96, 1.04],
        [0.39, 0.44, 0.55, 0.68, 0.81, 0.96, 1.04],
        [0.40, 0.52, 0.67, 0.76, 0.88, 0.98, 1.06],
        [-1.12, -0.96, -0.83, -0.70, -0.59, -0.49, -0.36],
        [-1.12, -0.94, -0.81, -0.64, -0.51, -0.40, -0.31],
        [-0.94, -0.87, -0.76, -0.55, -0.40, -0.27, -0.12, -0.04],
        [-0.98, -0.87, -0.79, -0.62, -0.40, -0.23, -0.10, -0.01]]
f2_y = [[0, 0.09, 0.55, 1.16, 1.36, 0.98, 0.47, 0.12, 0],
        [0, 0.43, 1.03, 1.33, 0.86, 0.6, 0.52, 0.17, 0],
        [0, 0.31, 1.0, 1.26, 1.09, 0.48, 0.05, 0],
        [0, 0.53, 1.26, 1.02, 0.45, 0.10, 0],
        [0, 0.76, 1.22, 0.76, 0.71, 0.16, 0],
        [0, 0.2, 0.98, 1.81, 0.98, 0.29, 0],
        [0, 0.17, 0.86, 1.17, 0.95, 0.34, 0],
        [0, 0.38, 0.78, 0.76, 0.38, 0.69, 0.12, 0],
        [0, 0.52, 0.64, 0.66, 0.76, 0.52, 0.03, 0]]
r_cmap = LinearSegmentedColormap.from_list('ridge', ['#5C8FD0', '#A5BFE4', '#FFFFFF', '#F2A58F', '#E5431C'])


def ridges(bbox, xlim, ylim, labels, xs, ys, base_x, label_xy):
    a = box(*bbox)
    for i, lab in enumerate(labels):
        b = -i
        z = 2 + i
        poly = a.fill(xs[i], np.array(ys[i]) + b, facecolor='none', edgecolor='none', zorder=z)[0]
        im = a.imshow(np.linspace(-1, 1, 256)[None, :], extent=[-1, 1, b, b + 2], aspect='auto', cmap=r_cmap, vmin=-1, vmax=1, zorder=z)
        im.set_clip_path(poly)
        a.plot(base_x, [b, b], color='#333333', lw=1, zorder=z)
        a.plot(xs[i], np.array(ys[i]) + b, color='#222222', lw=1, zorder=z)
    a.set_xlim(*xlim)
    a.set_ylim(*ylim)
    a.set_xticks([-1, -0.5, 0, 0.5, 1], ['−1.0', '−0.5', '0.0', '0.5', '1.0'])
    a.set_yticks(-np.arange(len(labels)) + 0.1, labels)
    a.tick_params(axis='x', labelsize=9, labelcolor=GREY, length=2.5, pad=2)
    a.tick_params(axis='y', labelsize=10.7, labelcolor=GREY, length=1.5, pad=3)
    for s in ['top', 'right']:
        a.spines[s].set_visible(False)
    a.spines['left'].set_color('#555555')
    a.spines['left'].set_linewidth(1.2)
    put(label_xy[0], label_xy[1], 'enrichment distribution', fontsize=11, ha='center')


ridges((1167.7, 664.5, 1382.7, 908), (-1.078, 1.21), (-8.59, 1.607), f1_labels, f1_x, f1_y, [-0.98, 1.11], (1266, 934))
ridges((1164.7, 982, 1382, 1217.6), (-1.228, 1.21), (-8.6, 1.37), f2_labels, f2_x, f2_y, [-1.12, 1.1], (1279, 1243))

colorbar(1404, 756, 1420, 833, r_cmap)
put(1391.7, 795, r'Correlation $\mathbf{vGat}$', fontsize=10, rotation=90, ha='center')
for lab, yy in [('1', 762), ('0', 798), ('-1', 830)]:
    put(1429, yy, lab, fontsize=9, rotation=90, ha='center')
colorbar(1394, 1068.6, 1410, 1144, r_cmap)
put(1381.7, 1108, r'Correlation $\mathbf{vGlut1}$', fontsize=10, rotation=90, ha='center')
for lab, yy in [('1', 1073), ('0', 1109), ('-1', 1141)]:
    put(1419, yy, lab, fontsize=9, rotation=90, ha='center')

# ---------- G: dot facets
g_panels = [['Syt12', 'Syt2'], ['Sv2b', 'Sv2c'], ['Rab3a', 'Rab3b'], ['Magi1', 'Magi2'], ['Fkbp1a', 'Fkbp4'], ['Diras1', 'Diras2'],
            ['Cadps', 'Cadps2'], ['Cacna2d1', 'Cacna2d2'], ['Atp1a1', 'Atp1a3', 'Atp2a2'], ['Arhgap35', 'Arhgap39'], ['Ank1', 'Anks1b']]
g_tops = [147, 253, 358, 463, 568, 673, 778, 884, 989, 1132, 1237]
g_bottoms = [229, 334, 439, 545, 650, 755, 860, 965, 1108, 1214, 1319]
# gene: (cell type, significant)
g_cx = {'Syt12': [('Camk2a', 1)], 'Syt2': [('Gad2', 1)], 'Sv2b': [('Camk2a', 1)], 'Sv2c': [('Gad2', 1)], 'Rab3a': [('Camk2a', 1)], 'Rab3b': [('Gad2', 1)],
        'Magi1': [('Gad2', 0)], 'Magi2': [('Camk2a', 0)], 'Fkbp4': [('Gad2', 1)], 'Diras1': [('Gad2', 1)], 'Diras2': [('Camk2a', 1)],
        'Cadps': [('Camk2a', 0), ('Gad2', 0)], 'Cadps2': [('Camk2a', 0)], 'Cacna2d1': [('Camk2a', 1)], 'Cacna2d2': [('Gad2', 1)],
        'Atp1a1': [('Camk2a', 1)], 'Atp1a3': [('Gad2', 1)], 'Atp2a2': [('Camk2a', 1)], 'Ank1': [('Gad2', 1)], 'Anks1b': [('Camk2a', 1)]}
g_hc = {'Syt12': [('Camk2a', 1)], 'Syt2': [('Gad2', 1)], 'Sv2b': [('Camk2a', 1)], 'Sv2c': [('Gad2', 1)], 'Rab3a': [('Camk2a', 1)], 'Rab3b': [('Gad2', 1)],
        'Magi1': [('Gad2', 0)], 'Fkbp1a': [('Camk2a', 1)], 'Fkbp4': [('Gad2', 1)], 'Diras1': [('Gad2', 1)], 'Diras2': [('Camk2a', 1)],
        'Cadps': [('Gad2', 1)], 'Cadps2': [('Gad2', 1)], 'Cacna2d1': [('Camk2a', 1)], 'Cacna2d2': [('Gad2', 1)], 'Atp1a3': [('Gad2', 1)],
        'Arhgap35': [('Gad2', 0)], 'Arhgap39': [('Camk2a', 1)], 'Ank1': [('Gad2', 1)], 'Anks1b': [('Camk2a', 1)]}
cell_colors = {'Camk2a': '#C9BE0A', 'Syn1': '#A9D6B0', 'Gad2': '#EF4A7B', 'DAT': '#3AA535'}
g_types = ['Camk2a', 'Gad2']

for col, (x0, x1, facet, name) in enumerate([(154.7, 217, g_cx, 'CX'), (230.7, 293.7, g_hc, 'HC')]):
    st = box(x0, 1068.8, x1, 1107.4)
    st.set_facecolor('#d9d9d9')
    st.set_xticks([])
    st.set_yticks([])
    for s in st.spines.values():
        s.set_color('#555555')
        s.set_linewidth(1.2)
    st.text(0.5, 0.5, name, transform=st.transAxes, ha='center', va='center', fontsize=12.5, color='#333333')
    for genes, t, b in zip(g_panels, g_tops, g_bottoms):
        a = box(x0, 1020 + t / 1.682, x1, 1020 + b / 1.682)
        a.set_xlim(-0.56, 1.55)
        a.set_ylim(len(genes) - 0.4, -0.6)
        a.grid(True, color='#ebebeb', lw=1.5)
        a.set_axisbelow(True)
        a.set_xticks([0, 1])
        a.set_yticks(range(len(genes)))
        a.set_xticklabels([])
        a.set_yticklabels(genes if col == 0 else [])
        a.tick_params(axis='y', length=4 if col == 0 else 0, labelsize=15, labelcolor=GREY, color='#333333', pad=3)
        a.tick_params(axis='x', length=0)
        for s in a.spines.values():
            s.set_color('#555555')
            s.set_linewidth(1.2)
        for gi, gene in enumerate(genes):
            for cell, sig in facet.get(gene, []):
                a.scatter([g_types.index(cell)], [gi], c=cell_colors[cell], s=140 if sig else 95,
                          edgecolors='black' if sig else 'none', linewidths=1.3, zorder=3, clip_on=False)
        if genes is g_panels[-1]:
            a.tick_params(axis='x', length=4, color='#333333')
            for k, cell in enumerate(g_types):
                a.annotate(cell, (k, len(genes) - 0.4), xytext=(5, -10), textcoords='offset points', rotation=45,
                           ha='right', va='top', rotation_mode='anchor', fontsize=19, color=GREY, annotation_clip=False)

mark = box(75, 1918, 99, 1942)
mark.axis('off')
mark.scatter([0], [0], s=100, facecolors='none', edgecolors='black', linewidths=1.8)
put(110, 1919.5, 'Significantly different', fontsize=13, ha='left')
put(110, 1942, 'Camk2a-vs-Gad2', fontsize=13, ha='left')

# ---------- H: scatter panels
h1_x = {'Camk2a': [1.07, 0.22, -0.04, -0.52], 'Syn1': [0.03, -0.38, 0.20, 1.02, 2.12], 'Gad2': [1.11, 0.65, 1.88, 1.82, 2.61], 'DAT': [2.65]}
h1_y = {'Camk2a': [1.60, 0.84, 0.60, 0.66], 'Syn1': [1.17, 0.60, 0.35, 0.11, -0.12], 'Gad2': [0.63, 0.10, -0.28, -1.02, -1.81], 'DAT': [-0.96]}
h2_x = {'Camk2a': [0.29, -0.79, -0.08, -1.21], 'Syn1': [0.76, 0.99, 0.42, 0.22, 0.82], 'Gad2': [1.51, 0.90, 2.20, 3.0]}
h2_y = {'Camk2a': [1.82, 0.90, 0.71, 0.51], 'Syn1': [0.89, 0.34, 0.17, 0.02, -0.78], 'Gad2': [0.35, -0.07, -0.57, -1.48]}
h3_x = {'Gad2': [-0.44, -0.12, -0.19, 0.09, 0.60], 'Syn1': [0.89, -0.69, 0.08, 0.10, 0.32], 'Camk2a': [1.30, 1.06, 1.38, 1.53], 'DAT': [-0.41]}
h3_y = {'Gad2': [1.80, 1.80, 1.68, 1.61, 0.41], 'Syn1': [1.55, 1.08, 0.12, 0.05, -0.02], 'Camk2a': [0.20, -0.09, -0.41, -0.60], 'DAT': [-0.29]}
h4_x = {'Camk2a': [0.32, -0.04, 0.17, 0.68], 'Syn1': [0.17, 0.46, 0.72, 0.56, 1.10], 'Gad2': [0.79, 0.57, 0.94, 0.79, 1.18], 'DAT': [0.74]}
h4_y = {'Camk2a': [0.90, 0.45, 0.40, -0.23], 'Syn1': [0.53, 0.37, 0.42, -0.38, -0.65], 'Gad2': [0.55, 0.28, -0.04, -0.15, -0.35], 'DAT': [-0.31]}
h5_x = {'Gad2': [-0.33, -0.28, 0.34, 0.60, -0.24], 'Syn1': [0.65, 0.59, 0.48, 0.50, 0.20], 'Camk2a': [0.70, 0.99, 0.53, 0.82], 'DAT': [-0.69]}
h5_y = {'Gad2': [2.68, 2.15, 1.41, 1.22, 0.77], 'Syn1': [0.99, 0.78, 0.66, 0.35, 0.19], 'Camk2a': [0.08, 0.01, -0.40, -0.96], 'DAT': [0.50]}
h6_x = {'Gad2': [-0.61, -0.43, -0.33, 0.38, 0.01], 'Syn1': [-0.48, 0.45, 0.32, 0.42, 1.04], 'Camk2a': [0.45, 0.84, 0.39, 0.82], 'DAT': [0.12]}
h6_y = {'Gad2': [1.19, 1.18, 0.87, 0.81, 0.05], 'Syn1': [1.10, 0.81, 0.43, 0.09, 0.13], 'Camk2a': [0.35, 0.30, -0.28, -0.80], 'DAT': [1.0]}

h_panels = [
    dict(box=(386.4, 1075, 579, 1270), xs=h1_x, ys=h1_y, xl=(-1.175, 2.84), yl=(-1.968, 1.78), line=([-0.51, 2.65], [1.12, -0.96]),
         xt=[-1, 0, 1, 2], xtl=['−1', '0', '1', '2'], yt=[-1, 0, 1], ytl=['−1', '0', '1'], name=('Sv2b', 'Sv2c'), lab=(488, 1300, 351),
         stat=(396.5, 1244, '−0.75', '0.0012')),
    dict(box=(653.2, 1075, 845, 1270), xs=h2_x, ys=h2_y, xl=(-1.41, 3.21), yl=(-1.64, 1.99), line=([-1.21, 2.94], [1.17, -0.91]),
         xt=[-1, 0, 1, 2, 3], xtl=['−1', '0', '1', '2', '3'], yt=[-1, 0, 1], ytl=['−1', '0', '1'], name=('Syt12', 'Syt2'), lab=(755, 1300, 618),
         stat=(672, 1250, '−0.67', '0.013')),
    dict(box=(384.7, 1328.3, 584.2, 1522.7), xs=h3_x, ys=h3_y, xl=(-0.903, 1.645), yl=(-0.716, 1.91), line=([-0.69, 1.54], [1.29, -0.18]),
         xt=[-0.5, 0, 0.5, 1, 1.5], xtl=['−0.5', '0.0', '0.5', '1.0', '1.5'], yt=[0, 1], ytl=['0', '1'], name=('Rab3b', 'Rab3a'), lab=(486, 1554, 357),
         stat=(394, 1505, '−0.53', '0.041')),
    dict(box=(663.3, 1328.3, 845, 1522.7), xs=h4_x, ys=h4_y, xl=(-0.095, 1.234), yl=(-0.72, 0.974), line=([-0.04, 1.11], [0.69, -0.33]),
         xt=[0, 0.4, 0.8, 1.2], xtl=['0.0', '0.4', '0.8', '1.2'], yt=[-0.5, 0, 0.5], ytl=['−0.5', '0.0', '0.5'], name=('Atp1a1', 'Atp1a3'), lab=(761, 1554, 618),
         stat=(678, 1508, '−0.68', '0.005')),
    dict(box=(386.4, 1577.7, 579.3, 1772.7), xs=h5_x, ys=h5_y, xl=(-0.895, 1.086), yl=(-1.14, 2.857), line=([-0.69, 0.95], [1.77, 0.03]),
         xt=[-0.5, 0, 0.5, 1], xtl=['−0.5', '0.0', '0.5', '1.0'], yt=[-1, 0, 1, 2], ytl=['−1', '0', '1', '2'], name=('Cacna2d2', 'Cacna2d1'), lab=(494, 1804, 352),
         stat=(396, 1755, '−0.55', '0.032')),
    dict(box=(663, 1577.7, 845.6, 1772.7), xs=h6_x, ys=h6_y, xl=(-0.693, 1.13), yl=(-0.903, 1.288), line=([-0.62, 1.05], [1.14, -0.19]),
         xt=[-0.5, 0, 0.5, 1], xtl=['−0.5', '0.0', '0.5', '1.0'], yt=[-0.5, 0, 0.5, 1], ytl=['−0.5', '0.0', '0.5', '1.0'], name=('Diras1', 'Diras2'), lab=(760, 1804, 618),
         stat=(673, 1752, '−0.71', '0.0028')),
]
for p in h_panels:
    a = box(*p['box'])
    a.plot(p['line'][0], p['line'][1], color='black', ls=(0, (3.5, 3)), lw=1.2, zorder=2)
    for cell in ['Syn1', 'Camk2a', 'Gad2', 'DAT']:
        if cell in p['xs']:
            a.scatter(p['xs'][cell], p['ys'][cell], s=105, c=cell_colors[cell], linewidths=0, zorder=3, clip_on=False)
    a.set_xlim(*p['xl'])
    a.set_ylim(*p['yl'])
    a.set_xticks(p['xt'], p['xtl'])
    a.set_yticks(p['yt'], p['ytl'])
    a.tick_params(labelsize=9.5, labelcolor=GREY, length=2.5, pad=2, color='#333333')
    for s in ['top', 'right']:
        a.spines[s].set_visible(False)
    for s in ['left', 'bottom']:
        a.spines[s].set_linewidth(1.2)
        a.spines[s].set_color('#333333')
    put(p['lab'][0], p['lab'][1], p['name'][0], fontsize=15.5, ha='center')
    put(p['lab'][2], (p['box'][1] + p['box'][3]) / 2, p['name'][1], fontsize=15.5, rotation=90, ha='center')
    put(p['stat'][0], p['stat'][1], '$r$ = ' + p['stat'][2] + ', $p$ = ' + p['stat'][3], fontsize=13.5, ha='left', zorder=5)

leg = box(880, 1610, 1000, 1680)
leg.axis('off')
leg.set_xlim(0, 120)
leg.set_ylim(70, 0)
for k, cell in enumerate(['Camk2a', 'Syn1', 'Gad2', 'DAT']):
    leg.scatter([12], [11 + k * 16.3], s=95, c=cell_colors[cell], linewidths=0)
    leg.text(28, 11 + k * 16.3, cell, fontsize=12, va='center')

fig.savefig('out.png', dpi=100)
